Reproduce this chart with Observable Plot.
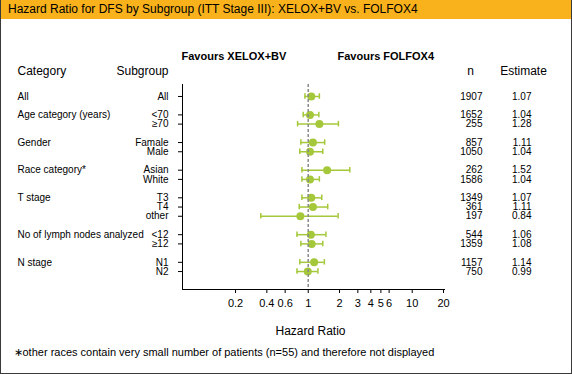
<!DOCTYPE html>
<html>
<head>
<meta charset="utf-8">
<script src="https://cdn.jsdelivr.net/npm/d3@7"></script>
<script src="https://cdn.jsdelivr.net/npm/@observablehq/plot@0.6"></script>
<style>
  html, body { margin: 0; padding: 0; background: #fff; }
  #wrap { position: relative; width: 572px; height: 374px; box-sizing: border-box; border: 1px solid #3a3a3a; border-top: none; font-family: "Liberation Sans", Arial, sans-serif; overflow: hidden; }
  #title { height: 19px; line-height: 19px; background: #F9B21B; font-size: 12px; color: #000; padding-left: 7px; white-space: nowrap; }
  #chart svg { display: block; }
</style>
</head>
<body>
<div id="wrap">
  <div id="title">Hazard Ratio for DFS by Subgroup (ITT Stage III): XELOX+BV vs. FOLFOX4</div>
  <div id="chart"></div>
</div>
<script>
const groups = ["All", "Age category (years)", "Gender", "Race category*", "T stage", "No of lymph nodes analyzed", "N stage"];
const subgroups = [["All"], ["<70", "≥70"], ["Famale", "Male"], ["Asian", "White"], ["T3", "T4", "other"], ["<12", "≥12"], ["N1", "N2"]];
const nPatients = [1907, 1652, 255, 857, 1050, 262, 1586, 1349, 361, 197, 544, 1359, 1157, 750];
const estimate  = [1.07, 1.04, 1.28, 1.11, 1.04, 1.52, 1.04, 1.07, 1.11, 0.84, 1.06, 1.08, 1.14, 0.99];
const lowerCI   = [0.93, 0.895, 0.79, 0.85, 0.83, 0.87, 0.87, 0.87, 0.82, 0.35, 0.78, 0.85, 0.83, 0.78];
const upperCI   = [1.28, 1.265, 1.95, 1.44, 1.38, 2.51, 1.28, 1.35, 1.54, 1.94, 1.48, 1.38, 1.43, 1.24];
const xTicks = [0.2, 0.4, 0.6, 1, 2, 3, 4, 5, 6, 10, 20];
const headers = { category: "Category", subgroup: "Subgroup", n: "n", estimate: "Estimate", left: "Favours XELOX+BV", right: "Favours FOLFOX4" };
const axisLabel = "Hazard Ratio";
const footnote = "∗other races contain very small number of patients (n=55) and therefore not displayed";

// build rows (layout: one row per subgroup, one blank row between groups)
const rows = [];
let pos = 0, k = 0;
groups.forEach((g, gi) => {
  if (gi > 0) pos += 1;
  subgroups[gi].forEach((s, si) => {
    rows.push({category: si === 0 ? g : "", subgroup: s, n: nPatients[k], est: estimate[k], lo: lowerCI[k], hi: upperCI[k], pos});
    pos += 1; k += 1;
  });
});

const green = "#A5C83A";
const font = "Liberation Sans, Arial, sans-serif";
const W = 570, H = 354;
const L = 181, R = 444;            // frame left / right (svg px)
const frameTop = 65, frameBottom = 270; // frame top / bottom (svg px)
const xDomain = [0.0618, 20.9];
const yDomain = [-1.3, 20.95];

const chart = Plot.plot({
  width: W,
  height: H,
  marginLeft: L,
  marginRight: W - R,
  marginTop: frameTop,
  marginBottom: H - frameBottom,
  style: { fontFamily: font, fontSize: "11px", color: "#000", background: "#fff", overflow: "visible" },
  x: { type: "log", domain: xDomain, axis: null },
  y: { type: "linear", domain: yDomain, range: [frameTop, frameBottom], axis: null },
  marks: [
    // axis lines
    Plot.ruleY([yDomain[1]], { stroke: "#000", strokeWidth: 1 }),
    Plot.ruleX([xDomain[0]], { stroke: "#000", strokeWidth: 1 }),
    // x ticks + labels
    Plot.ruleX(xTicks, { x: d => d, insetTop: frameBottom - frameTop, insetBottom: -4, stroke: "#000" }),
    Plot.text(xTicks, { x: d => d, text: d => String(d), frameAnchor: "bottom", dy: 14, lineAnchor: "middle", fontSize: 11 }),
    // y row ticks
    Plot.ruleY(rows, { y: "pos", insetLeft: -4, insetRight: R - L, stroke: "#000" }),
    // error bars
    Plot.ruleY(rows, { y: "pos", x1: "lo", x2: "hi", stroke: green, strokeWidth: 1.5 }),
    Plot.ruleX(rows, { x: "lo", y1: d => d.pos - 0.3, y2: d => d.pos + 0.3, stroke: green, strokeWidth: 1.5 }),
    Plot.ruleX(rows, { x: "hi", y1: d => d.pos - 0.3, y2: d => d.pos + 0.3, stroke: green, strokeWidth: 1.5 }),
    Plot.dot(rows, { x: "est", y: "pos", r: 4, fill: green, stroke: "none" }),
    Plot.ruleX([1], { stroke: "#8a8a8a", strokeWidth: 1.5, strokeDasharray: "3,2" }),
    // row texts
    Plot.text(rows.filter(d => d.category), { y: "pos", text: "category", frameAnchor: "left", dx: 16 - L, textAnchor: "start", lineAnchor: "middle", fontSize: 10 }),
    Plot.text(rows, { y: "pos", text: "subgroup", frameAnchor: "left", dx: 167 - L, textAnchor: "end", lineAnchor: "middle", fontSize: 10 }),
    Plot.text(rows, { y: "pos", text: d => String(d.n), frameAnchor: "left", dx: 481 - L, textAnchor: "end", lineAnchor: "middle", fontSize: 10 }),
    Plot.text(rows, { y: "pos", text: d => d.est.toFixed(2), frameAnchor: "left", dx: 530 - L, textAnchor: "end", lineAnchor: "middle", fontSize: 10 }),
    // headers
    Plot.text([headers.category], { text: d => d, frameAnchor: "top-left", dx: 16 - L, dy: -13, textAnchor: "start", lineAnchor: "middle", fontSize: 12 }),
    Plot.text([headers.subgroup], { text: d => d, frameAnchor: "top-left", dx: 167 - L, dy: -13, textAnchor: "end", lineAnchor: "middle", fontSize: 12 }),
    Plot.text([headers.n], { text: d => d, frameAnchor: "top-left", dx: 469 - L, dy: -13, textAnchor: "middle", lineAnchor: "middle", fontSize: 12 }),
    Plot.text([headers.estimate], { text: d => d, frameAnchor: "top-left", dx: 522 - L, dy: -13, textAnchor: "middle", lineAnchor: "middle", fontSize: 12 }),
    Plot.text([headers.left], { text: d => d, frameAnchor: "top-left", dx: -1, dy: -28, textAnchor: "start", lineAnchor: "middle", fontSize: 11, fontWeight: "bold" }),
    Plot.text([headers.right], { text: d => d, frameAnchor: "top-left", dx: 155, dy: -28, textAnchor: "start", lineAnchor: "middle", fontSize: 11, fontWeight: "bold" }),
    // axis label and footnote
    Plot.text([axisLabel], { text: d => d, frameAnchor: "bottom", dx: -3.5, dy: 42, textAnchor: "middle", lineAnchor: "middle", fontSize: 12 }),
    Plot.text([footnote], { text: d => d, frameAnchor: "bottom-left", dx: 12 - L, dy: 63, textAnchor: "start", lineAnchor: "middle", fontSize: 11 })
  ]
});
document.getElementById("chart").appendChild(chart);
</script>
</body>
</html>
